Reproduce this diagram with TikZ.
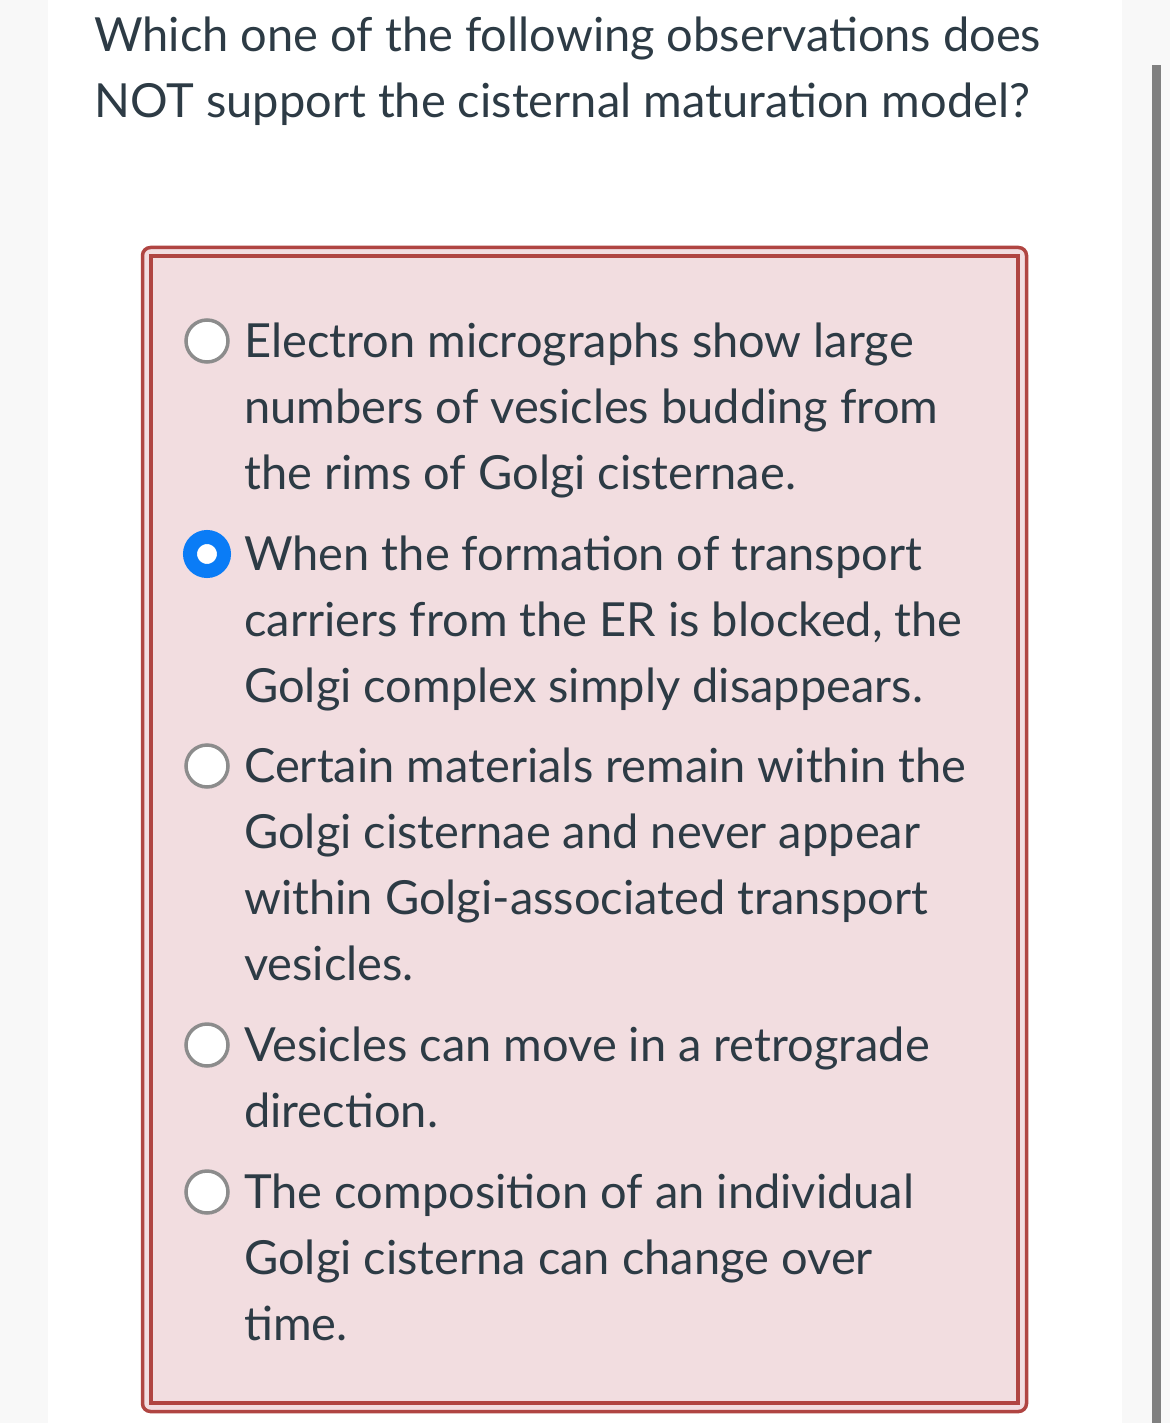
\documentclass[tikz,border=0pt]{standalone}
\usepackage{fontspec}
\setmainfont{Lato}
\definecolor{txt}{HTML}{2D3B45}
\definecolor{boxred}{HTML}{B04542}
\definecolor{boxfill}{HTML}{F2DDE0}
\definecolor{sidegrey}{HTML}{F8F8F8}
\definecolor{radioblue}{HTML}{0A7CF6}
\begin{document}
\begin{tikzpicture}[x=1pt,y=-1pt,
  line/.style={anchor=base west,inner sep=0pt,text=txt,font=\fontsize{47}{56}\selectfont},
  radio/.style={circle,draw=gray!90,line width=3.5pt,fill=white,minimum size=42pt,inner sep=0pt},
  radiosel/.style={circle,draw=radioblue,line width=14pt,fill=white,minimum size=34pt,inner sep=0pt}]
\useasboundingbox (0,0) rectangle (1170,1423);
\fill[sidegrey] (0,0) rectangle (48,1423);
\fill[sidegrey] (1122,0) rectangle (1170,1423);
\fill[gray] (1152,65) rectangle (1161,1423);
\draw[boxred,line width=3.5pt,fill=boxfill,rounded corners=8pt] (142.5,247.5) rectangle (1026.5,1411.5);
\draw[boxred,line width=4pt] (151,256) rectangle (1018,1403);
\node[line] (q1) at (94,52) {Which one of the following observations does};
\node[line] (q2) at (94,118) {NOT support the cisternal maturation model?};
\node[radio] (r1) at (207,341) {};
\node[line] (a1) at (244,357) {Electron micrographs show large};
\node[line] (a2) at (244,423) {numbers of vesicles budding from};
\node[line] (a3) at (244,489) {the rims of Golgi cisternae.};
\node[radiosel] (r2) at (207,554) {};
\node[line] (b1) at (244,570) {When the formation of transport};
\node[line] (b2) at (244,636) {carriers from the ER is blocked, the};
\node[line] (b3) at (244,702) {Golgi complex simply disappears.};
\node[radio] (r3) at (207,766) {};
\node[line] (c1) at (244,782) {Certain materials remain within the};
\node[line] (c2) at (244,848) {Golgi cisternae and never appear};
\node[line] (c3) at (244,914) {within Golgi-associated transport};
\node[line] (c4) at (244,980) {vesicles.};
\node[radio] (r4) at (207,1045) {};
\node[line] (d1) at (244,1061) {Vesicles can move in a retrograde};
\node[line] (d2) at (244,1127) {direction.};
\node[radio] (r5) at (207,1192) {};
\node[line] (e1) at (244,1208) {The composition of an individual};
\node[line] (e2) at (244,1274) {Golgi cisterna can change over};
\node[line] (e3) at (244,1340) {time.};
\end{tikzpicture}
\end{document}
